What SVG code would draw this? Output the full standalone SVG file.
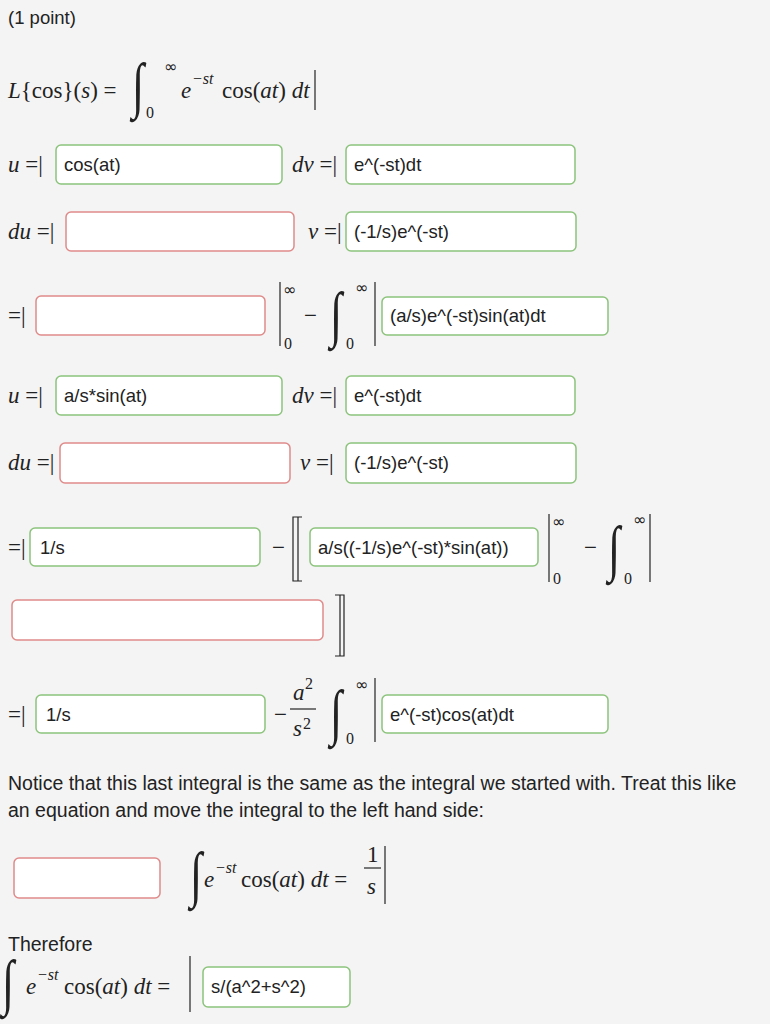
<svg xmlns="http://www.w3.org/2000/svg" width="770" height="1024" viewBox="0 0 770 1024">
<style>
.s{font-family:"Liberation Sans",Arial,sans-serif;font-size:18.5px;fill:#222}
.p{font-family:"Liberation Sans",Arial,sans-serif;font-size:19.5px;fill:#222}
.m{font-family:"Liberation Serif","Times New Roman",serif;font-size:23px;fill:#222;font-style:italic}
.r{font-family:"Liberation Serif","Times New Roman",serif;font-size:23px;fill:#222}
.sm{font-family:"Liberation Serif","Times New Roman",serif;font-size:16px;fill:#222}
.inf{font-family:"DejaVu Sans",sans-serif;font-size:16px;fill:#222}
.int{font-family:"Liberation Serif","Times New Roman",serif;font-size:44px;fill:#222;font-style:italic}
.g{fill:#fff;stroke:#8cc47c;stroke-width:1.5}
.bad{fill:#fff;stroke:#e08a8a;stroke-width:1.5}
.b{stroke:#222;stroke-width:1.2;fill:none}
</style>
<rect width="770" height="1024" fill="#f4f4f4"/>
<text class="s" x="8" y="24">(1 point)</text>

<text class="m" x="8" y="98">L<tspan font-style="normal">{cos}(</tspan>s<tspan font-style="normal">) =</tspan></text>
<text class="int" transform="translate(132 106) scale(1 1.4)">∫</text><text class="inf" x="164" y="72">∞</text><text class="sm" x="146" y="118">0</text>
<text class="m" x="181" y="98">e</text><text class="sm" x="192" y="84" font-style="italic">−st</text>
<text class="r" x="222" y="98">cos(<tspan font-style="italic">at</tspan>) <tspan font-style="italic">dt</tspan></text>
<line class="b" x1="315" y1="70" x2="315" y2="110"/>

<g id="row1">
<text class="m" x="8" y="172">u <tspan font-style="normal">=|</tspan></text>
<rect class="g" x="56" y="145" width="226" height="39" rx="5"/><text class="s" x="64" y="171">cos(at)</text>
<text class="m" x="292" y="172">dv <tspan font-style="normal">=|</tspan></text>
<rect class="g" x="346" y="145" width="229" height="39" rx="5"/><text class="s" x="354" y="171">e^(-st)dt</text>
</g>
<g id="row2">
<text class="m" x="8" y="239">du <tspan font-style="normal">=|</tspan></text>
<rect class="bad" x="66" y="212" width="228" height="39" rx="5"/>
<text class="m" x="308" y="239">v <tspan font-style="normal">=|</tspan></text>
<rect class="g" x="346" y="212" width="230" height="39" rx="5"/><text class="s" x="354" y="238">(-1/s)e^(-st)</text>
</g>
<g id="row3">
<text class="r" x="8" y="323">=|</text>
<rect class="bad" x="36" y="296" width="229" height="39" rx="5"/>
<line class="b" x1="280" y1="282" x2="280" y2="346"/><text class="inf" x="283" y="295">∞</text><text class="sm" x="284" y="349">0</text>
<text class="r" x="304" y="323">−</text>
<text class="int" transform="translate(330 335) scale(1 1.4)">∫</text><text class="inf" x="355" y="293">∞</text><text class="sm" x="346" y="349">0</text>
<line class="b" x1="375" y1="282" x2="375" y2="346"/>
<rect class="g" x="382" y="297" width="226" height="38" rx="5"/><text class="s" x="390" y="322">(a/s)e^(-st)sin(at)dt</text>
</g>
<g id="row4">
<text class="m" x="8" y="403">u <tspan font-style="normal">=|</tspan></text>
<rect class="g" x="56" y="376" width="226" height="39" rx="5"/><text class="s" x="64" y="402">a/s*sin(at)</text>
<text class="m" x="292" y="403">dv <tspan font-style="normal">=|</tspan></text>
<rect class="g" x="346" y="376" width="229" height="39" rx="5"/><text class="s" x="354" y="402">e^(-st)dt</text>
</g>
<g id="row5">
<text class="m" x="8" y="470">du <tspan font-style="normal">=|</tspan></text>
<rect class="bad" x="60" y="443" width="230" height="40" rx="5"/>
<text class="m" x="300" y="470">v <tspan font-style="normal">=|</tspan></text>
<rect class="g" x="346" y="443" width="230" height="40" rx="5"/><text class="s" x="354" y="469">(-1/s)e^(-st)</text>
</g>
<g id="row6">
<text class="r" x="8" y="555">=|</text>
<rect class="g" x="30" y="528" width="230" height="38" rx="5"/><text class="s" x="40" y="554">1/s</text>
<text class="r" x="272" y="555">−</text>
<path class="b" d="M302 517 H293 V581 H302 M298 517 V581"/>
<rect class="g" x="310" y="528" width="228" height="38" rx="5"/><text class="s" x="318" y="554">a/s((-1/s)e^(-st)*sin(at))</text>
<line class="b" x1="549" y1="514" x2="549" y2="582"/><text class="inf" x="552" y="527">∞</text><text class="sm" x="553" y="584">0</text>
<text class="r" x="584" y="555">−</text>
<text class="int" transform="translate(608 569) scale(1 1.4)">∫</text><text class="inf" x="633" y="525">∞</text><text class="sm" x="624" y="584">0</text>
<line class="b" x1="650" y1="514" x2="650" y2="582"/>
<rect class="bad" x="12" y="600" width="311" height="40" rx="5"/>
<path class="b" d="M335 595 H344 V656 H335 M340 595 V656"/>
</g>
<g id="row7">
<text class="r" x="8" y="722">=|</text>
<rect class="g" x="36" y="695" width="229" height="38" rx="5"/><text class="s" x="46" y="721">1/s</text>
<text class="r" x="274" y="722">−</text>
<text class="m" x="293" y="700">a</text><text class="sm" x="305" y="689">2</text>
<line class="b" x1="290" y1="709" x2="316" y2="709"/>
<text class="m" x="293" y="736">s</text><text class="sm" x="303" y="729">2</text>
<text class="int" transform="translate(330 733) scale(1 1.4)">∫</text><text class="inf" x="355" y="690">∞</text><text class="sm" x="346" y="744">0</text>
<line class="b" x1="375" y1="678" x2="375" y2="742"/>
<rect class="g" x="382" y="695" width="226" height="38" rx="5"/><text class="s" x="390" y="721">e^(-st)cos(at)dt</text>
</g>
<text class="p" x="8" y="790">Notice that this last integral is the same as the integral we started with. Treat this like</text>
<text class="p" x="8" y="817">an equation and move the integral to the left hand side:</text>
<g id="row8">
<rect class="bad" x="14" y="858" width="146" height="40" rx="5"/>
<text class="int" transform="translate(190 895) scale(1 1.4)">∫</text>
<text class="m" x="204" y="887">e</text><text class="sm" x="215" y="873" font-style="italic">−st</text>
<text class="r" x="241" y="887">cos(<tspan font-style="italic">at</tspan>) <tspan font-style="italic">dt</tspan> =</text>
<text class="r" x="367" y="862">1</text><line class="b" x1="364" y1="868" x2="381" y2="868"/><text class="m" x="367" y="894">s</text>
<line class="b" x1="385" y1="846" x2="385" y2="904"/>
</g>
<text class="p" x="8" y="951">Therefore</text>
<g id="row9">
<text class="int" transform="translate(2 1003) scale(1 1.4)">∫</text>
<text class="m" x="26" y="994">e</text><text class="sm" x="37" y="980" font-style="italic">−st</text>
<text class="r" x="64" y="994">cos(<tspan font-style="italic">at</tspan>) <tspan font-style="italic">dt</tspan> =</text>
<line class="b" x1="190" y1="956" x2="190" y2="1012"/>
<rect class="g" x="203" y="967" width="147" height="40" rx="5"/><text class="s" x="211" y="993">s/(a^2+s^2)</text>
</g>
</svg>
